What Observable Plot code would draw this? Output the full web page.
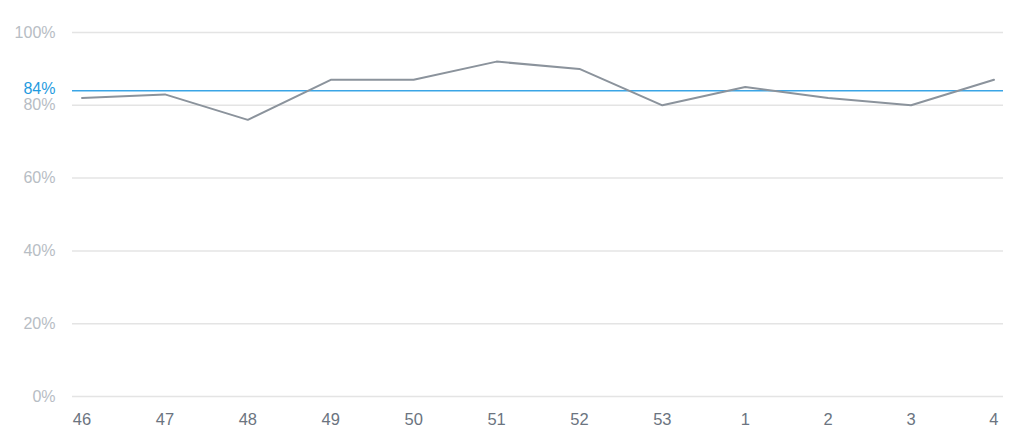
<!DOCTYPE html>
<html>
<head>
<meta charset="utf-8">
<script src="https://cdn.jsdelivr.net/npm/d3@7"></script>
<script src="https://cdn.jsdelivr.net/npm/@observablehq/plot@0.6"></script>
<style>
  html, body { margin: 0; padding: 0; background: #fff; }
  #chart { width: 1024px; height: 444px; }
</style>
</head>
<body>
<div id="chart"></div>
<script>
const weeks = ["46", "47", "48", "49", "50", "51", "52", "53", "1", "2", "3", "4"];
const values = [82, 83, 76, 87, 87, 92, 90, 80, 85, 82, 80, 87];
const yTicks = [0, 20, 40, 60, 80, 100];
const target = 84;

const data = weeks.map((w, i) => ({week: w, value: values[i]}));

const chart = Plot.plot({
  width: 1024,
  height: 444,
  marginTop: 32,
  marginBottom: 48,
  marginLeft: 72,
  marginRight: 21,
  style: {fontFamily: "'Liberation Sans', Arial, sans-serif", fontSize: "16px", background: "#fff"},
  x: {type: "point", domain: weeks, padding: 0.115, round: false},
  y: {domain: [0, 100]},
  marks: [
    Plot.ruleY(yTicks, {stroke: "#e4e4e4", strokeWidth: 1.5}),
    Plot.axisY(yTicks, {tickSize: 0, tickPadding: 17, tickFormat: d => d + "%", color: "#b7bdc4", label: null, fontSize: 16, dy: 0}),
    Plot.axisY([target], {tickSize: 0, tickPadding: 17, tickFormat: d => d + "%", color: "#1f9be0", label: null, fontSize: 16, dy: -1.5}),
    Plot.axisX({tickSize: 0, tickPadding: 17, color: "#6b7480", label: null, fontSize: 16.5}),
    Plot.ruleY([target], {stroke: "#3aa5e6", strokeWidth: 1.6}),
    Plot.line(data, {x: "week", y: "value", stroke: "#8b939c", strokeWidth: 2})
  ]
});
document.getElementById("chart").appendChild(chart);
</script>
</body>
</html>
